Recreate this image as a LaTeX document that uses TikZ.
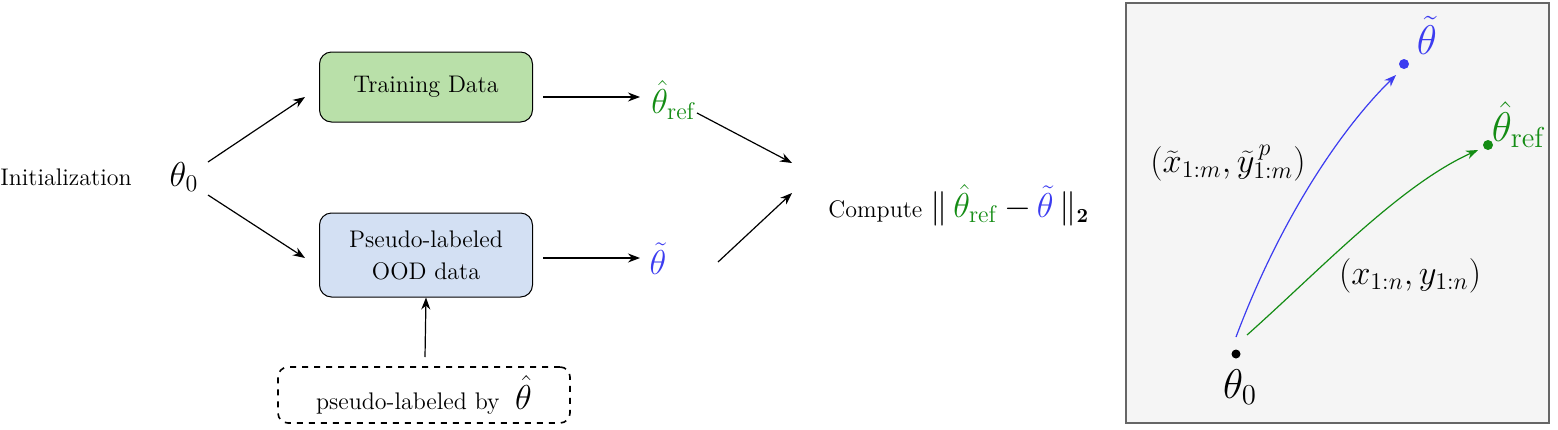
\documentclass[tikz,border=0pt]{standalone}
\usetikzlibrary{arrows.meta}
\definecolor{tgreen}{RGB}{20,140,20}
\definecolor{tblue}{RGB}{60,60,240}
\definecolor{gfill}{RGB}{185,224,169}
\definecolor{bfill}{RGB}{211,224,243}
\begin{document}
\begin{tikzpicture}[x=0.5pt,y=-0.5pt,font=\large,
  arr/.style={-{Stealth[length=6pt,width=4.5pt]},line width=0.6pt},
  box/.style={draw,rounded corners=6pt,minimum width=106.5pt,line width=0.5pt,align=center}]
\useasboundingbox (0,0) rectangle (1558,429);
\node[anchor=west,inner sep=0] (init) at (0,177) {Initialization};
\node (t0) at (184,177) {\LARGE$\theta_0$};
\node[box,fill=gfill,minimum height=35pt] (train) at (426,87) {Training Data};
\node[box,fill=bfill,minimum height=42pt] (pseudo) at (426,255) {Pseudo-labeled\\[2pt]OOD data};
\node[draw,dashed,rounded corners=5pt,line width=0.8pt,minimum width=146pt,minimum height=28pt] (pl) at (424,395) {pseudo-labeled by \ \LARGE$\hat\theta$};
\node[text=tgreen] (tref) at (674,100) {\LARGE$\hat\theta_{\mathrm{ref}}$};
\node[text=tblue] (ttil) at (658,259) {\LARGE$\tilde\theta$};
\node[anchor=west,inner sep=0] (comp) at (828,205) {Compute {\LARGE$\|\,{\color{tgreen}\hat\theta_{\mathrm{ref}}}\,{-}\,{\color{tblue}\tilde\theta}\,\|_{\scriptscriptstyle\mathbf{2}}$}};
\draw[arr] (208,162) coordinate (a1) -- (305,97) coordinate (a2);
\draw[arr] (208,195) coordinate (b1) -- (305,258) coordinate (b2);
\draw[arr] (543,97) coordinate (c1) -- (640,97) coordinate (c2);
\draw[arr] (543,258) coordinate (d1) -- (640,258) coordinate (d2);
\draw[arr] (697,113) coordinate (e1) -- (792,163) coordinate (e2);
\draw[arr] (718,262) coordinate (f1) -- (792,193) coordinate (f2);
\draw[arr] (425,357) coordinate (g1) -- (pseudo.south);
% right panel
\node[draw=gray!80!black,fill=black!4,line width=0.8pt,minimum width=211.5pt,minimum height=210pt,inner sep=0] (panel) at (1337.5,213) {};
\fill (1236,354) circle (4.5) coordinate (p0);
\fill[tblue] (1404,64) circle (5) coordinate (p1);
\fill[tgreen] (1488,145) circle (5) coordinate (p2);
\draw[arr,tblue] (1236,337) .. controls (1280,220) and (1340,130) .. (1396,75);
\draw[arr,tgreen] (1247,335) .. controls (1320,270) and (1400,185) .. (1478,150);
\node (l0) at (1240,387) {\huge$\theta_0$};
\node[text=tblue] (l1) at (1427,35) {\huge$\tilde\theta$};
\node[text=tgreen] (l2) at (1519,125) {\huge$\hat\theta_{\mathrm{ref}}$};
\node (lab1) at (1228,163) {\LARGE$(\widetilde{x}_{1:m},\widetilde{y}^{\,p}_{1:m})$};
\node (lab2) at (1410,276) {\LARGE$(x_{1:n},y_{1:n})$};
\end{tikzpicture}
\end{document}
